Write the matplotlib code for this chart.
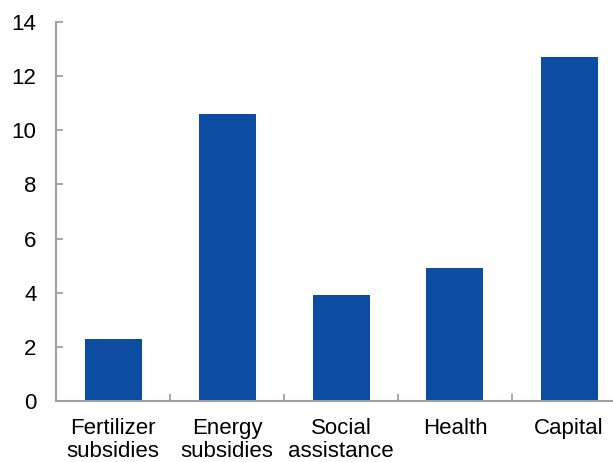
import matplotlib
matplotlib.use("Agg")
import matplotlib.pyplot as plt

categories = ["Fertilizer\nsubsidies", "Energy\nsubsidies", "Social\nassistance", "Health", "Capital"]
values = [2.3, 10.6, 3.9, 4.9, 12.7]
yticks = [0, 2, 4, 6, 8, 10, 12, 14]

plt.rcParams['font.family'] = ['Liberation Sans', 'DejaVu Sans']
fig = plt.figure(figsize=(6.13, 4.62), dpi=100)
ax = fig.add_axes([56/613, 1-401/462, (613-56)/613, (401-22)/462])

x = list(range(len(categories)))
ax.bar(x, values, width=0.5, color="#0D4DA1")
ax.set_xlim(-0.5, -0.5 + (613-56)/114)
ax.set_ylim(0, 14)
ax.set_yticks(yticks)
ax.set_xticks(x)
ax.set_xticklabels(categories, fontsize=16, linespacing=1.15)
ax.set_xticks([i + 0.5 for i in x[:-1]], minor=True)
ax.tick_params(axis='x', which='major', length=0, pad=12)
ax.tick_params(axis='x', which='minor', length=5, direction='in', color='#A0A0A0', width=1.3)
ax.tick_params(axis='y', length=5, direction='in', color='#A0A0A0', width=1.3, labelsize=16, pad=14)
for s in ['top', 'right']:
    ax.spines[s].set_visible(False)
for s in ['left', 'bottom']:
    ax.spines[s].set_color('#A0A0A0')
    ax.spines[s].set_linewidth(1.5)

fig.savefig("out.png", dpi=100)
